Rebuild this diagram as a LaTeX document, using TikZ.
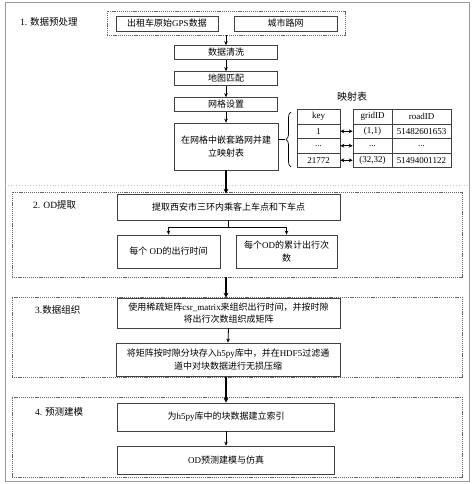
\documentclass[tikz,border=0pt]{standalone}
\usepackage{fontspec}
\setmainfont{Liberation Serif}
\newfontfamily\cjk{Noto Sans CJK SC}
\usetikzlibrary{arrows.meta,decorations.pathreplacing}
\newcommand\lat[1]{{\rmfamily #1}}
\begin{document}
\begin{tikzpicture}[x=1pt,y=-1pt,
  box/.style={draw=black!75,line width=0.7pt,fill=white,inner sep=0pt,align=center,font=\cjk\fontsize{9}{12.5}\selectfont},
  grp/.style={draw=black!60,dash pattern=on 1.2pt off 0.9pt,line width=0.7pt,inner sep=0pt},
  lbl/.style={font=\cjk\fontsize{9.5}{12}\selectfont,anchor=west,inner sep=0pt},
  arr/.style={-{Stealth[length=4pt,width=3.6pt]},line width=0.8pt,black},
  bigarr/.style={-{Stealth[length=5pt,width=5pt]},line width=1.6pt,black},
  darr/.style={{Stealth[length=4pt,width=4pt]}-{Stealth[length=4pt,width=4pt]},line width=1.2pt,black},
  cell/.style={draw=black!75,line width=0.6pt,font=\fontsize{9}{11}\selectfont,inner sep=0pt,minimum height=14.5pt}
]
\useasboundingbox (0,0) rectangle (474,484);
% outer frame
\node[draw=black!40,line width=1pt,minimum width=464pt,minimum height=478pt,inner sep=0pt] (frame) at (237,242) {};
\coordinate (sepl) at (5,185);
\coordinate (sepr) at (469,185);
\draw[black!25,dotted,line width=0.8pt] (sepl) -- (sepr);

% section frames
\node[grp,minimum width=450pt,minimum height=85pt] (sec2) at (237,234.5) {};
\node[grp,minimum width=450pt,minimum height=80pt] (sec3) at (237,337) {};
\node[grp,minimum width=450pt,minimum height=80pt] (sec4) at (237,437) {};
\node[grp,minimum width=238pt,minimum height=24pt] (inputs) at (226,23) {};

% labels
\node[lbl] (l1) at (20,22) {\lat{1.} 数据预处理};
\node[lbl] (l2) at (33,205) {\lat{2. OD}提取};
\node[lbl] (l3) at (35,310) {\lat{3.}数据组织};
\node[lbl] (l4) at (35,412) {\lat{4.} 预测建模};

% section 1
\node[box,minimum width=102pt,minimum height=15pt] (gps) at (167,23.5) {出租车原始\lat{GPS}数据};
\node[box,minimum width=103pt,minimum height=15pt] (road) at (285.5,23.5) {城市路网};
\node[box,minimum width=103pt,minimum height=14pt] (clean) at (226,52.5) {数据清洗};
\node[box,minimum width=103pt,minimum height=14pt] (match) at (226,78.5) {地图匹配};
\node[box,minimum width=103pt,minimum height=14pt] (grid) at (226,104.5) {网格设置};
\node[box,minimum width=104pt,minimum height=47pt] (embed) at (226,146.5) {在网格中嵌套路网并建\\立映射表};

\draw[arr] (inputs.south) -- (inputs.south |- clean.north);
\draw[arr] (clean.south) -- (match.north);
\draw[arr] (match.south) -- (grid.north);
\draw[arr] (grid.south) -- (embed.north);

% mapping table
\node[font=\cjk\fontsize{10}{12}\selectfont] (ttl) at (352,97) {映射表};
\node[cell,minimum width=43pt] (k0) at (318.5,116.75) {key};
\node[cell,minimum width=43pt] (k1) at (318.5,131.25) {1};
\node[cell,minimum width=43pt] (k2) at (318.5,145.75) {...};
\node[cell,minimum width=43pt] (k3) at (318.5,160.25) {21772};
\node[cell,minimum width=39pt] (g0) at (372.5,116.75) {gridID};
\node[cell,minimum width=39pt] (g1) at (372.5,131.25) {(1,1)};
\node[cell,minimum width=39pt] (g2) at (372.5,145.75) {...};
\node[cell,minimum width=39pt] (g3) at (372.5,160.25) {(32,32)};
\node[cell,minimum width=59pt] (r0) at (421.5,116.75) {roadID};
\node[cell,minimum width=59pt] (r1) at (421.5,131.25) {51482601653};
\node[cell,minimum width=59pt] (r2) at (421.5,145.75) {...};
\node[cell,minimum width=59pt] (r3) at (421.5,160.25) {51494001122};
\draw[darr] (k1.east) -- (g1.west);
\draw[darr] (k2.east) -- (g2.west);
\draw[darr] (k3.east) -- (g3.west);
\coordinate (bbot) at (291,167);
\coordinate (btop) at (291,112);
\coordinate (btip) at (285,139.5);
\draw[decorate,decoration={brace,amplitude=5pt},line width=0.7pt] (bbot) -- (btop);
\draw[line width=0.7pt] (embed.east |- btip) -- (btip);

% section 2
\node[box,minimum width=223pt,minimum height=26pt] (extract) at (228.5,207) {提取西安市三环内乘客上车点和下车点};
\node[box,minimum width=103pt,minimum height=33pt] (t1) at (168.5,251.5) {每个 \lat{OD}的出行时间};
\node[box,minimum width=101pt,minimum height=33pt] (t2) at (286.5,251.5) {每个\lat{OD}的累计出行次\\数};
\draw[bigarr] (embed.south) -- (embed.south |- extract.north);
\draw[line width=0.8pt] (extract.south) -- ++(0,7) coordinate (sp);
\draw[arr] (sp) -| (t1.north);
\draw[arr] (sp) -| (t2.north);

% section 3
\node[box,minimum width=223pt,minimum height=30pt] (csr) at (228.5,313) {使用稀疏矩阵\lat{csr\_matrix}来组织出行时间，并按时隙\\将出行次数组织成矩阵};
\node[box,minimum width=224pt,minimum height=33pt] (h5) at (228,359.5) {将矩阵按时隙分块存入\lat{h5py}库中，并在\lat{HDF5}过滤通\\道中对块数据进行无损压缩};
\coordinate (a2) at (sec2.south -| embed.south);
\draw[bigarr] (a2) -- (a2 |- csr.north);
\draw[arr] (csr.south) -- (h5.north);

% section 4
\node[box,minimum width=217pt,minimum height=28pt] (idx) at (226,417) {为\lat{h5py}库中的块数据建立索引};
\node[box,minimum width=217pt,minimum height=28pt] (od) at (226,460) {\lat{OD}预测建模与仿真};
\coordinate (a3) at (sec3.south -| idx.north);
\draw[bigarr] (a3) -- (idx.north);
\draw[arr] (idx.south) -- (od.north);
\end{tikzpicture}
\end{document}
